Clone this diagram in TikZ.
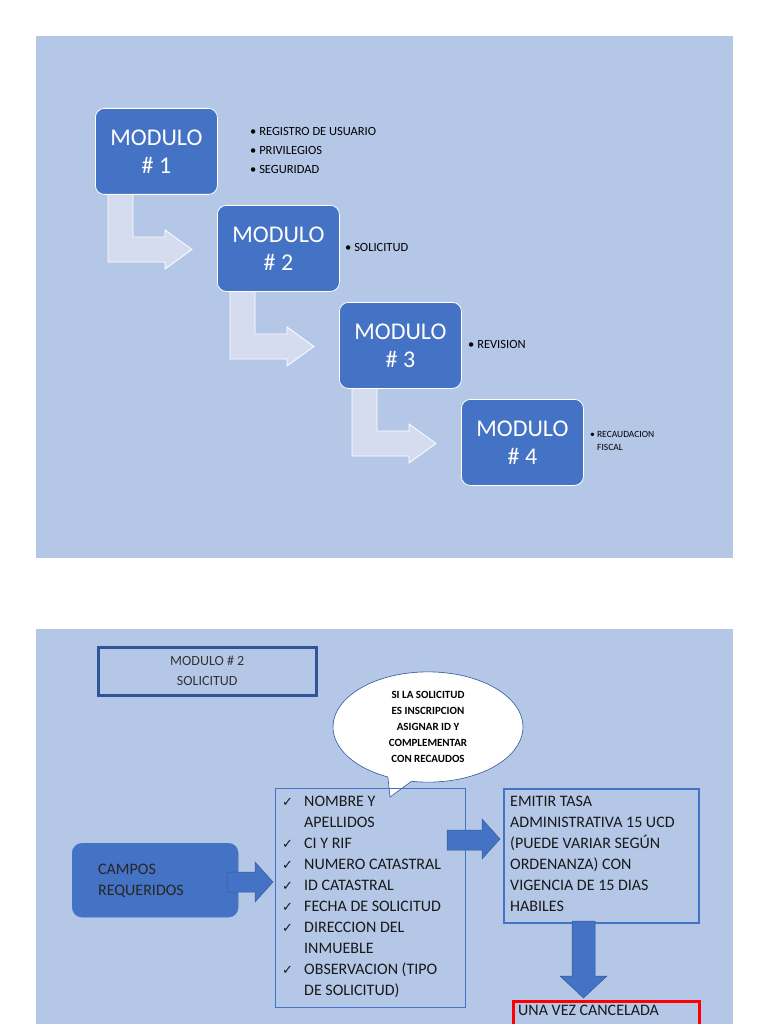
\documentclass[tikz,border=0pt]{standalone}
\usepackage{fontspec}
\setmainfont{Carlito}
\newfontfamily\djv{DejaVu Sans}
\usetikzlibrary{shapes.geometric,shapes.callouts}
\definecolor{panel}{HTML}{B4C7E7}
\definecolor{mblue}{HTML}{4472C4}
\definecolor{dblue}{HTML}{2F5597}
\definecolor{lite}{HTML}{D6DCF0}
\newcommand{\ck}{\makebox[22pt][l]{\djv\fontsize{13}{21}\selectfont ✓}}
\tikzset{
 mod/.style={draw=white,fill=mblue,rounded corners=9pt,line width=0.8pt,minimum width=122pt,minimum height=86pt,text=white,font=\fontsize{24}{28}\selectfont,align=center,anchor=north west},
 bul/.style={anchor=west,font=\fontsize{12.5}{19}\selectfont,align=left,inner sep=0},
 barrow/.style={fill=lite,draw=white,line width=0.8pt},
 blk/.style={fill=mblue,draw=mblue!80!black,line width=0.5pt},
}
\begin{document}
\begin{tikzpicture}[x=1pt,y=-1pt]
\useasboundingbox (0,0) rectangle (768,1024);
\fill[white] (0,0) rectangle (768,1024);
\fill[panel] (36,36) rectangle (733,558);
\fill[panel] (36,629) rectangle (733,1024);
% bent arrows
\foreach \i in {0,1,2}{
 \begin{scope}[shift={(122*\i,97*\i)}]
 \draw[barrow] (108,194) -- (133,194) -- (133,237) -- (165,237) -- (165,230) -- (192,249.5) -- (165,269) -- (165,262) -- (108,262) -- cycle;
 \end{scope}}
\node[mod] (m1) at (95,108) {MODULO\\\# 1};
\node[mod] (m2) at (217,205) {MODULO\\\# 2};
\node[mod] (m3) at (339,302) {MODULO\\\# 3};
\node[mod] (m4) at (461,399) {MODULO\\\# 4};
\node[bul] (b1) at (250,150) {• REGISTRO DE USUARIO\\• PRIVILEGIOS\\• SEGURIDAD};
\node[bul] (b2) at (345,247) {• SOLICITUD};
\node[bul] (b3) at (468,344) {• REVISION};
\node[bul,font=\fontsize{9.5}{13}\selectfont] (b4) at (590,441) {• RECAUDACION\\\hspace*{7pt}FISCAL};
% bottom
\node[draw=dblue,line width=2.5pt,minimum width=218pt,minimum height=48pt,anchor=north west,align=center,font=\fontsize{14}{20}\selectfont,text=black!80] (t) at (97,646) {MODULO \# 2\\SOLICITUD};
\node[ellipse callout,draw=dblue,fill=white,line width=0.6pt,minimum width=190pt,minimum height=106pt,callout absolute pointer={(390,797)},align=center,font=\bfseries\fontsize{11}{16}\selectfont] (c) at (428,727) {SI LA SOLICITUD\\ES INSCRIPCION\\ASIGNAR ID Y\\COMPLEMENTAR\\CON RECAUDOS};
\node[draw=mblue,line width=0.8pt,minimum width=190pt,minimum height=219pt,anchor=north west] (l) at (275,788) {};
\node[anchor=north west,align=left,inner sep=0,font=\fontsize{16}{21}\selectfont,text=black!90] (lt) at (282,796) {%
\ck NOMBRE Y\\\hspace*{22pt}APELLIDOS\\\ck CI Y RIF\\\ck NUMERO CATASTRAL\\\ck ID CATASTRAL\\\ck FECHA DE SOLICITUD\\\ck DIRECCION DEL\\\hspace*{22pt}INMUEBLE\\\ck OBSERVACION (TIPO\\\hspace*{22pt}DE SOLICITUD)};
\node[draw=mblue,fill=mblue,rounded corners=10pt,minimum width=166pt,minimum height=74pt,anchor=north west] (cr) at (72,843) {};
\node[anchor=west,align=left,font=\fontsize{16}{21}\selectfont,text=black!85,inner sep=0] (crt) at (98,881) {CAMPOS\\REQUERIDOS};
\node[draw=mblue,line width=1.5pt,minimum width=195pt,minimum height=134pt,anchor=north west] (e) at (503,788) {};
\node[anchor=north west,align=left,inner sep=0,font=\fontsize{16}{21}\selectfont,text=black!90] (et) at (510,796) {EMITIR TASA\\ADMINISTRATIVA 15 UCD\\(PUEDE VARIAR SEGÚN\\ORDENANZA) CON\\VIGENCIA DE 15 DIAS\\HABILES};
\draw[blk] (227,872) -- (255,872) -- (255,862) -- (273,882) -- (255,902) -- (255,892) -- (227,892) -- cycle;
\draw[blk] (447,830) -- (482,830) -- (482,819) -- (500,839) -- (482,859) -- (482,850) -- (447,850) -- cycle;
\draw[blk] (572,921) -- (595,921) -- (595,976) -- (607,976) -- (583.5,998) -- (560,976) -- (572,976) -- cycle;
\node[draw=red,line width=2.5pt,minimum width=186pt,minimum height=40pt,anchor=north west] (u) at (512,1000) {};
\node[anchor=north west,inner sep=0,font=\fontsize{16}{21}\selectfont,text=black!90] (ut) at (518,1005) {UNA VEZ CANCELADA};
\end{tikzpicture}
\end{document}
